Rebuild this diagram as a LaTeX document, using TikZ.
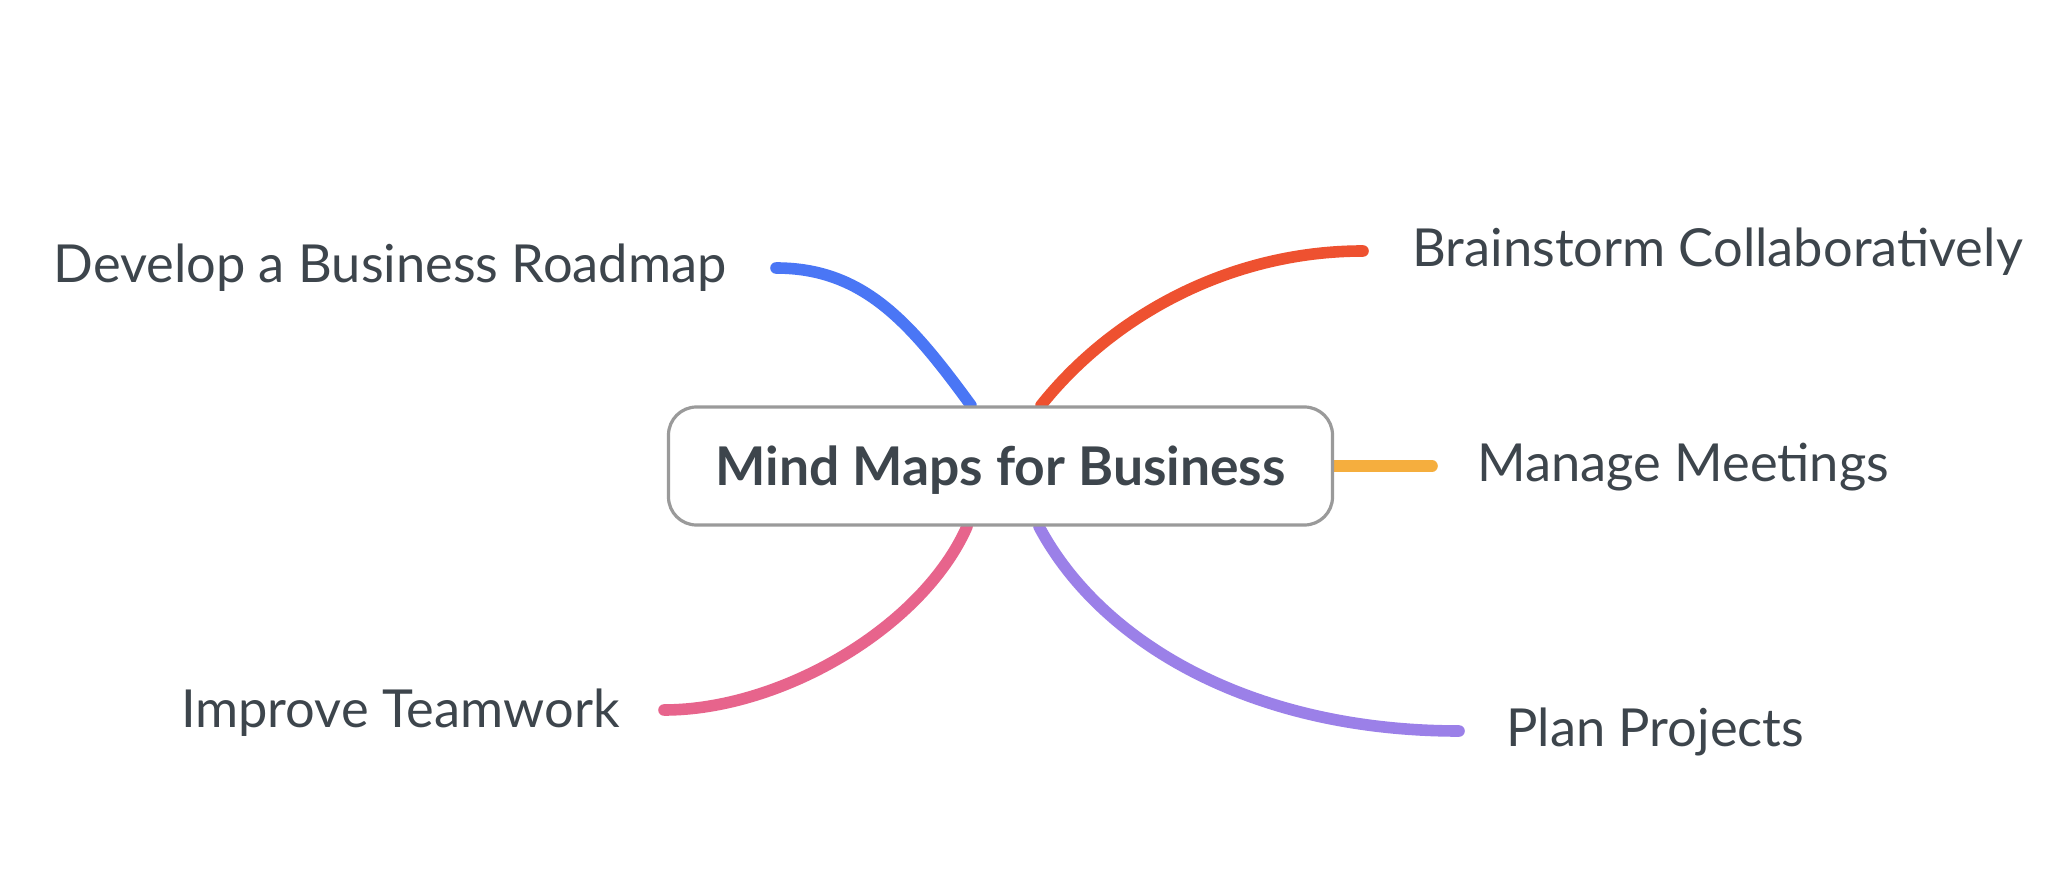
\documentclass[tikz,border=0pt]{standalone}
\usepackage{fontspec}
\setmainfont{Lato}
\usetikzlibrary{backgrounds}
\definecolor{txt}{HTML}{3D454C}
\definecolor{cblue}{HTML}{4A76F5}
\definecolor{cred}{HTML}{EE5130}
\definecolor{corange}{HTML}{F5AE3E}
\definecolor{cpink}{HTML}{E7648C}
\definecolor{cpurple}{HTML}{9B80E8}
\definecolor{boxline}{HTML}{9A9A9A}
\tikzset{
  branch/.style={line width=5.8pt, line cap=round},
  label/.style={text=txt, inner sep=0pt, font=\fontsize{26.2}{31}\selectfont},
  central/.style={draw=boxline, line width=1.6pt, fill=white, rounded corners=14pt,
    minimum width=332pt, minimum height=59pt, inner sep=0pt, text=txt,
    font=\bfseries\fontsize{26.7}{31}\selectfont},
}
\begin{document}
\begin{tikzpicture}[x=0.5pt,y=-0.5pt]
\useasboundingbox (0,0) rectangle (2048,892);
\node[central] (box) at (1000.5,466) {\raisebox{0pt}[\height][0pt]{Mind Maps for Business}};
\coordinate (eB) at (776,268);
\coordinate (eR) at (1363,251);
\coordinate (eO) at (1432,466);
\coordinate (eP) at (664,710);
\coordinate (eU) at (1459,731);
\begin{scope}[on background layer]
\fill[white] (0,0) rectangle (2048,892);
\draw[branch, cblue] ([xshift=-14.75pt]box.north) .. controls +(-60,-82) and +(88,0) .. (eB);
\draw[branch, cred] ([xshift=20.25pt]box.north) .. controls +(70,-88) and +(-135,0) .. (eR);
\draw[branch, corange] (box.east) -- (eO);
\draw[branch, cpink] ([xshift=-16.75pt]box.south) .. controls +(-44,100) and +(118,0) .. (eP);
\draw[branch, cpurple] ([xshift=19.25pt]box.south) .. controls +(61,115) and +(-209,0) .. (eU);
\end{scope}
\node[label, anchor=base east] (lB) at (727,283) {Develop a Business Roadmap};
\node[label, anchor=base west] (lR) at (1412,267) {Brainstorm Collaboratively};
\node[label, anchor=base west] (lO) at (1477,481) {Manage Meetings};
\node[label, anchor=base east] (lP) at (620,727) {Improve Teamwork};
\node[label, anchor=base west] (lU) at (1506,746) {Plan Projects};
\end{tikzpicture}
\end{document}
